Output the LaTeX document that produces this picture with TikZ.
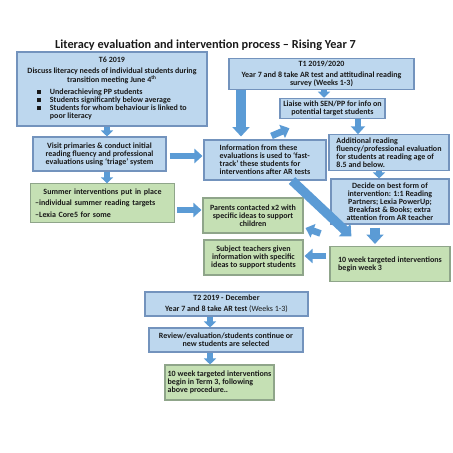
\documentclass[tikz,border=0pt]{standalone}
\usepackage{fontspec}
\setmainfont{Carlito}
\usepackage{xcolor}
\usepackage{tikz}
\usetikzlibrary{arrows.meta, calc, positioning}

\definecolor{boxblue}{HTML}{BDD7EE}
\definecolor{boxgreen}{HTML}{C5E0B4}
\definecolor{blueline}{HTML}{7393BD}
\definecolor{greenline}{HTML}{8FA58A}
\definecolor{arrowblue}{HTML}{5B9BD5}

\newcommand{\sqbul}{\rule[0.5pt]{3pt}{3pt}}

\begin{document}
\begin{tikzpicture}[
            x=0.75pt,
            y=-0.75pt,
            every node/.style={
                    text=black!90,
                    font=\fontsize{6}{6.1}\selectfont\bfseries,
                    inner sep=2pt
                },
            blue box/.style={
                    draw=blueline,
                    fill=boxblue,
                    line width=0.8pt,
                    align=center
                },
            green box/.style={
                    draw=greenline,
                    fill=boxgreen,
                    line width=0.8pt,
                    align=center
                },
            title label/.style={
                    font=\fontsize{9.2}{10}\selectfont\bfseries
                },
            small arrow/.style={
                    draw=arrowblue,
                    line width=4.5pt,
                    -{Triangle[width=9pt,length=4.5pt]}
                },
            mid arrow/.style={
                    draw=arrowblue,
                    line width=5pt,
                    -{Triangle[width=10.5pt,length=6pt]}
                },
            big arrow/.style={
                    draw=arrowblue,
                    line width=7pt,
                    -{Triangle[width=12.5pt,length=7pt]}
                }
        ]

        \useasboundingbox (0,0) rectangle (453,453);

        % Title
        \node[title label] (title) at (205.5,45) {Literacy evaluation and intervention process -- Rising Year 7};

        % Left column
        \node[blue box, minimum width=142.5pt, minimum height=55.5pt] (t6) at (112,89) {%
            T6 2019\\[2.2pt]
            Discuss literacy needs of individual students during\\
            transition meeting June 4\textsuperscript{\fontsize{4}{4}\selectfont th}\\[2.5pt]
            \begin{tabular}{@{}l@{\hspace{6.5pt}}l@{}}
                \sqbul & Underachieving PP students\\
                \sqbul & Students significantly below average\\
                \sqbul & Students for whom behaviour is linked to\\
                       & poor literacy
            \end{tabular}};
        \node[blue box, minimum width=99.75pt, minimum height=25.5pt] (visit) at (99.5,154) {%
            Visit primaries \& conduct initial\\
            reading fluency and professional\\
            evaluations using `triage' system};
        \node[green box, align=left, text width=101pt, inner sep=3.5pt, minimum height=28.5pt] (summer) at (102.5,203) {%
            \makebox[\linewidth]{Summer interventions put in place}\\[2.6pt]
            --individual summer reading targets\\[2.6pt]
            --Lexia Core5 for some};

        % Middle column
        \node[blue box, align=left, minimum width=91.5pt, minimum height=30pt] (info) at (265,160) {%
            Information from these\\
            evaluations is used to `fast-\\
            track' these students for\\
            interventions after AR tests};
        \node[green box, minimum width=75pt, minimum height=26.25pt] (parents) at (253,215.5) {%
            Parents contacted x2 with\\
            specific ideas to support\\
            children};
        \node[green box, minimum width=74.25pt, minimum height=26.25pt] (subject) at (253.5,257.5) {%
            Subject teachers given\\
            information with specific\\
            ideas to support students};

        % Right column
        \node[blue box, minimum width=138.75pt, minimum height=22.5pt] (t1) at (321.5,74) {%
            T1 2019/2020\\[2.2pt]
            Year 7 and 8 take AR test and attitudinal reading\\
            survey (Weeks 1-3)};
        \node[blue box, minimum width=78.75pt, minimum height=14.25pt] (liaise) at (332.5,108.5) {%
            Liaise with SEN/PP for info on\\
            potential target students};
        \node[blue box, align=left, minimum width=90pt, minimum height=24.75pt] (add) at (389,152.5) {%
            Additional reading\\
            fluency/professional evaluation\\
            for students at reading age of\\
            8.5 and below.};
        \node[blue box, minimum width=88.5pt, minimum height=33.75pt] (decide) at (390,201.5) {%
            Decide on best form of\\
            intervention: 1:1 Reading\\
            Partners; Lexia PowerUp;\\
            Breakfast \& Books; extra\\
            attention from AR teacher};
        \node[green box, align=left, minimum width=90pt, minimum height=26.25pt] (tenwk) at (390,264) {%
            10 week targeted interventions\\
            begin week 3};

        % Bottom column
        \node[blue box, minimum width=122.25pt, minimum height=18pt] (t2) at (226.5,304) {%
            T2 2019 - December\\[2.2pt]
            Year 7 and 8 take AR test {\mdseries(Weeks 1-3)}};
        \node[blue box, minimum width=115.5pt, minimum height=18pt] (review) at (226,340) {%
            Review/evaluation/students continue or\\
            new students are selected};
        \node[green box, align=left, minimum width=81.75pt, minimum height=26.25pt] (final) at (219.5,382.5) {%
            10 week targeted interventions\\
            begin in Term 3, following\\
            above procedure..};

        % Arrows
        \draw[small arrow] ($(t6.south)+(-5,0)$) -- ($(t6.south |- visit.north)+(-5,0)$);
        \draw[small arrow] ($(visit.south)+(7.5,0)$) -- ($(visit.south |- summer.north)+(7.5,0)$);
        \draw[mid arrow] ($(visit.east)+(3,2)$) -- ($(visit.east -| info.west)+(-1,2)$);
        \draw[mid arrow] ($(summer.east)+(2,7)$) -- ($(summer.east -| parents.west)+(-1,7)$);
        \draw[big arrow] ($(info.north |- t1.south)+(-24,0)$) -- ($(info.north)+(-24,-3)$);
        \draw[mid arrow] ($(info.north)+(6.5,-3.5)$) -- ($(liaise.south west)+(10,9)$);
        \draw[small arrow] ($(t1.south)+(2.5,0)$) -- ($(t1.south |- liaise.north)+(2.5,0)$);
        \draw[mid arrow] ($(liaise.south)+(25.5,0)$) -- ($(liaise.south |- add.north)+(25.5,0)$);
        \draw[small arrow] ($(add.south)+(-10,0)$) -- ($(add.south |- decide.north)+(-10,0)$);
        \draw[big arrow] ($(decide.south)+(-15,3)$) -- ($(decide.south |- tenwk.north)+(-15,-2)$);
        \draw[big arrow] ($(info.south)+(27,0)$) -- ($(tenwk.north west)+(22,-9.5)$);
        \draw[mid arrow] ($(tenwk.north west)+(-9,-12.5)$) -- ($(parents.east)+(2,12.5)$);
        \draw[mid arrow] ($(tenwk.west)+(-3,-8)$) -- ($(tenwk.west -| subject.east)+(1,-8)$);
        \draw[small arrow] ($(t2.south)+(-16.5,0)$) -- ($(t2.south |- review.north)+(-16.5,0)$);
        \draw[small arrow] ($(review.south)+(-16,0)$) -- ($(review.south |- final.north)+(-16,0)$);

    \end{tikzpicture}
\end{document}
